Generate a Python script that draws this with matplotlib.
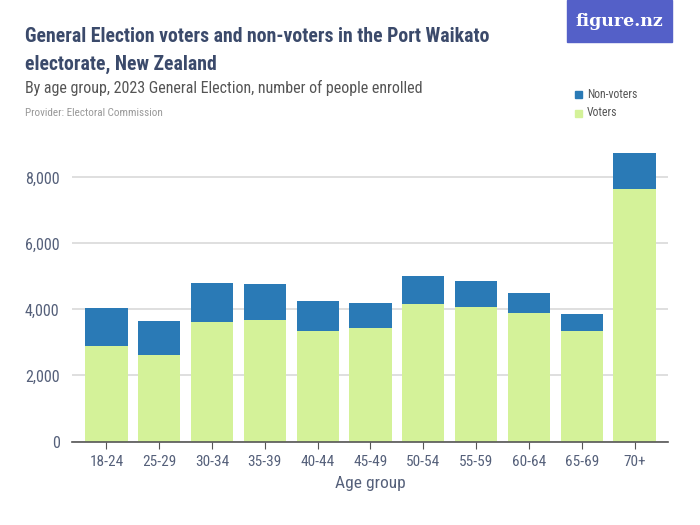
import numpy as np
import matplotlib.pyplot as plt
from matplotlib.patches import Rectangle

plt.rcParams['font.family'] = ['Roboto Condensed', 'DejaVu Sans']

age_groups = ['18-24', '25-29', '30-34', '35-39', '40-44', '45-49',
              '50-54', '55-59', '60-64', '65-69', '70+']
voters = [2897, 2606, 3615, 3667, 3352, 3443, 4151, 4079, 3878, 3352, 7636]
non_voters = [1133, 1030, 1191, 1090, 899, 757, 858, 779, 616, 506, 1100]

c_voters = '#d4f299'
c_non = '#2a7ab6'
c_text = '#3b4a6b'

fig = plt.figure(figsize=(7, 5.25), dpi=100)
ax = fig.add_axes([0.103, 0.159, 0.851, 0.566])

x = np.arange(len(age_groups))
ax.bar(x, voters, width=0.8, color=c_voters, zorder=2)
ax.bar(x, non_voters, width=0.8, bottom=voters, color=c_non, zorder=2)

ax.set_xlim(-0.65, 10.63)
ax.set_ylim(0, 9000)
ax.set_yticks([0, 2000, 4000, 6000, 8000])
ax.set_yticklabels(['0', '2,000', '4,000', '6,000', '8,000'])
ax.set_xticks(x)
ax.set_xticklabels(age_groups)
ax.grid(axis='y', color='#d9d9d9', lw=1.2, zorder=0)
for s in ['top', 'right', 'left']:
    ax.spines[s].set_visible(False)
ax.spines['bottom'].set_color('#555555')
ax.spines['bottom'].set_linewidth(1.2)
ax.tick_params(axis='y', length=0, pad=9, labelsize=11.5, labelcolor='#55607a')
ax.tick_params(axis='x', length=5, color='#555555', labelsize=11, labelcolor='#55607a', pad=5)
ax.set_xlabel('Age group', fontsize=12.5, color='#55607a', labelpad=5)

fig.text(25/700, 1 - 37/525, 'General Election voters and non-voters in the Port Waikato',
         fontsize=14.2, fontweight='bold', color=c_text, va='center')
fig.text(25/700, 1 - 64/525, 'electorate, New Zealand',
         fontsize=14.2, fontweight='bold', color=c_text, va='center')
fig.text(25/700, 1 - 88/525, 'By age group, 2023 General Election, number of people enrolled',
         fontsize=11.5, color='#555555', va='center')
fig.text(25/700, 1 - 113/525, 'Provider: Electoral Commission',
         fontsize=8, color='#999999', va='center')

# logo
fig.patches.append(Rectangle((567/700, 1 - 42/525), 105/700, 42/525,
                             transform=fig.transFigure, color='#5460c8', zorder=0))
fig.text(619/700, 1 - 21/525, 'figure.nz', fontsize=12.5, fontweight='bold',
         color='white', ha='center', va='center', family='DejaVu Serif')

# legend
fig.patches.append(Rectangle((575/700, 1 - 98/525), 7/700, 7/525,
                             transform=fig.transFigure, color=c_non))
fig.patches.append(Rectangle((575/700, 1 - 117/525), 7/700, 7/525,
                             transform=fig.transFigure, color=c_voters))
fig.text(587/700, 1 - 94/525, 'Non-voters', fontsize=8.5, color='#555555', va='center')
fig.text(587/700, 1 - 113/525, 'Voters', fontsize=8.5, color='#555555', va='center')

fig.savefig('out.png', dpi=100)
